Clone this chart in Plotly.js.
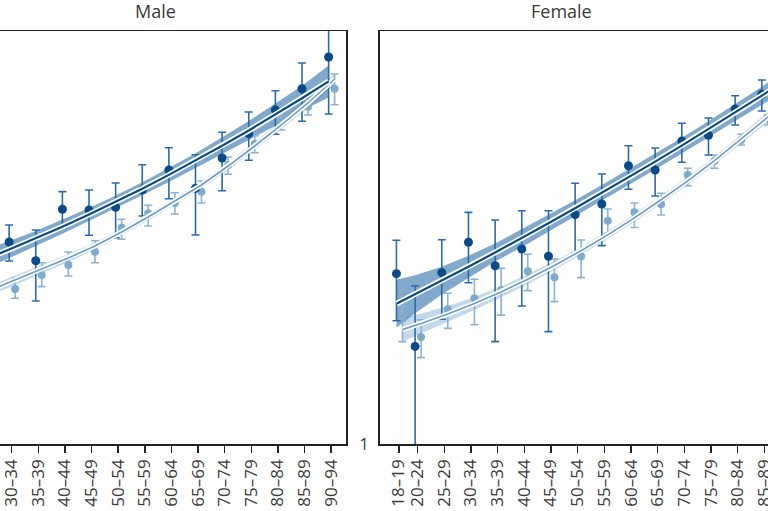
<!DOCTYPE html>
<html>
<head>
<meta charset="utf-8">
<script src="https://cdn.plot.ly/plotly-3.0.1.min.js"></script>
<style>
  html, body { margin: 0; padding: 0; overflow: hidden; background: #fff; }
  #chart { position: absolute; left: -120px; top: 0; width: 960px; height: 511px; }
</style>
</head>
<body>
<div id="chart"></div>
<script>
// age groups, plotted at their midpoints
const ageLabels = ['18–19', '20–24', '25–29', '30–34', '35–39', '40–44', '45–49', '50–54',
    '55–59', '60–64', '65–69', '70–74', '75–79', '80–84', '85–89', '90–94']
const ageMid = [18.5, 22, 27, 32, 37, 42, 47, 52, 57, 62, 67, 72, 77, 82, 87, 92]

// Male - observed (dark)
const maleObs = [6.0, 7.4, 8.3, 9.51, 7.72, 13.70, 13.59, 14.01, 16.98, 21.23, 17.31, 24.27, 31.82, 41.45, 52.55, 74.83]
const maleObsLo = [3.9, 5.2, 6.3, 7.69, 4.93, 11.12, 10.25, 9.98, 12.71, 15.41, 10.28, 16.85, 23.65, 31.61, 36.53, 39.63]
const maleObsHi = [9.0, 10.2, 10.7, 11.50, 10.87, 16.67, 16.98, 18.36, 22.52, 27.22, 25.18, 32.31, 40.53, 51.39, 69.98, 112]
// Male - comparison (light)
const maleRef = [4.3, 4.9, 5.4, 5.63, 6.58, 7.36, 8.54, 11.16, 13.10, 14.69, 16.67, 22.44, 28.37, 36.25, 42.99, 52.55]
const maleRefLo = [3.8, 4.4, 4.9, 5.08, 5.78, 6.51, 7.55, 9.80, 11.37, 12.99, 14.69, 20.23, 25.74, 33.16, 39.19, 43.96]
const maleRefHi = [4.9, 5.5, 6.0, 6.37, 7.55, 8.51, 9.65, 12.25, 14.32, 16.48, 18.77, 24.54, 31.00, 38.20, 46.34, 61.91]
// Male - fitted curves with bands
const maleObsFit = [6.43, 6.93, 7.76, 8.74, 9.89, 11.27, 12.91, 14.87, 17.23, 20.10, 23.57, 27.80, 32.97, 39.37, 47.27, 57.00]
const maleObsFitLo = [5.50, 6.06, 6.94, 7.95, 9.10, 10.43, 12.01, 13.83, 16.03, 18.59, 21.68, 25.30, 29.65, 34.81, 41.10, 47.70]
const maleObsFitHi = [7.52, 7.92, 8.68, 9.61, 10.75, 12.18, 13.88, 15.99, 18.52, 21.73, 25.62, 30.55, 36.66, 44.53, 54.36, 68.10]
const maleRefFit = [4.51, 4.87, 5.51, 6.23, 7.04, 7.96, 9.10, 10.63, 12.57, 15.02, 17.96, 22.19, 27.74, 35.06, 44.81, 58.55]
const maleRefFitLo = [4.17, 4.56, 5.21, 5.93, 6.73, 7.61, 8.75, 10.22, 12.09, 14.44, 17.27, 21.22, 26.52, 33.36, 42.39, 55.08]
const maleRefFitHi = [4.88, 5.21, 5.82, 6.55, 7.36, 8.32, 9.46, 11.06, 13.07, 15.62, 18.68, 23.20, 29.01, 36.85, 47.36, 62.24]

// Female - observed (dark)
const femObs = [6.68, 2.97, 6.75, 9.48, 7.30, 8.80, 8.11, 12.90, 14.53, 22.27, 21.23, 29.33, 31.25, 41.92, 49.38, 62.0]
const femObsLo = [3.95, 0.8, 4.02, 6.04, 3.13, 4.66, 3.50, 8.39, 9.13, 17.12, 15.89, 23.13, 25.09, 35.06, 40.99, 52.0]
const femObsHi = [9.69, 5.84, 9.76, 13.24, 12.16, 13.48, 13.48, 18.30, 20.30, 27.83, 27.13, 35.73, 37.91, 48.61, 57.89, 74.0]
// Female - comparison (light)
const femRef = [4.06, 3.30, 4.49, 5.08, 5.57, 6.86, 6.42, 8.09, 12.06, 13.24, 14.50, 20.07, 23.47, 29.66, 37.78, 47.0]
const femRefLo = [3.13, 2.62, 3.63, 3.78, 4.21, 5.53, 4.89, 6.39, 10.48, 11.18, 12.85, 17.82, 21.63, 28.05, 35.06, 43.0]
const femRefHi = [4.66, 3.99, 5.37, 6.28, 7.09, 8.29, 7.87, 9.72, 13.74, 14.69, 16.37, 21.63, 25.09, 31.61, 39.19, 51.0]
// Female - fitted curves with bands
const femObsFit = [4.78, 5.31, 6.18, 7.21, 8.46, 9.93, 11.72, 13.85, 16.43, 19.53, 23.31, 27.86, 33.46, 40.30, 48.61, 58.88]
const femObsFitLo = [3.66, 4.30, 5.29, 6.37, 7.65, 8.98, 10.66, 12.67, 15.03, 17.87, 21.33, 25.49, 30.61, 36.67, 43.95, 52.67]
const femObsFitHi = [6.25, 6.56, 7.22, 8.15, 9.36, 10.98, 12.88, 15.14, 17.96, 21.35, 25.48, 30.45, 36.57, 44.29, 53.76, 65.83]
const femRefFit = [3.58, 3.83, 4.26, 4.79, 5.45, 6.28, 7.32, 8.63, 10.29, 12.44, 15.23, 18.82, 23.54, 29.87, 38.23, 49.60]
const femRefFitLo = [3.13, 3.43, 3.90, 4.46, 5.13, 5.94, 6.96, 8.25, 9.84, 11.89, 14.56, 17.99, 22.50, 28.42, 36.17, 46.66]
const femRefFitHi = [4.09, 4.28, 4.66, 5.15, 5.79, 6.64, 7.69, 9.03, 10.76, 13.01, 15.93, 19.69, 24.62, 31.39, 40.41, 52.72]

// colours
const DARK = '#0b4a87'
const DARK_BAR = '#2c6ca6'
const DARK_BAND = 'rgba(40,107,165,0.58)'
const LIGHT = '#80aacd'
const LIGHT_BAR = '#8cb2d4'
const LIGHT_LINE = '#6d9dc6'
const LIGHT_BAND = 'rgba(112,160,202,0.4)'

// small horizontal dodge so the two series don't sit on top of each other
const xDark = ageMid.map(a => a - 0.47)
const xLight = ageMid.map(a => a + 0.65)

function band(x, lo, hi, color, xa, ya) {
    return [
        { x, y: lo, xaxis: xa, yaxis: ya, mode: 'lines', line: { width: 0 }, hoverinfo: 'skip' },
        { x, y: hi, xaxis: xa, yaxis: ya, mode: 'lines', line: { width: 0 }, fill: 'tonexty', fillcolor: color, hoverinfo: 'skip' }
    ]
}

function fitLine(x, y, color, width, xa, ya) {
    return [
        { x, y, xaxis: xa, yaxis: ya, mode: 'lines', line: { color: '#ffffff', width: width + 3.4 } },
        { x, y, xaxis: xa, yaxis: ya, mode: 'lines', line: { color, width } }
    ]
}

function points(x, y, lo, hi, color, barColor, size, xa, ya) {
    return {
        x, y, xaxis: xa, yaxis: ya,
        mode: 'markers',
        marker: { color, size },
        error_y: {
            type: 'data',
            symmetric: false,
            array: hi.map((h, i) => h - y[i]),
            arrayminus: lo.map((l, i) => y[i] - l),
            color: barColor,
            thickness: 1.6,
            width: 4
        }
    }
}

function panel(xa, ya, obs, obsLo, obsHi, ref, refLo, refHi, oFit, oFitLo, oFitHi, rFit, rFitLo, rFitHi) {
    return [
        ...band(xLight, rFitLo, rFitHi, LIGHT_BAND, xa, ya),
        ...band(xDark, oFitLo, oFitHi, DARK_BAND, xa, ya),
        points(xLight, ref, refLo, refHi, LIGHT, LIGHT_BAR, 8, xa, ya),
        points(xDark, obs, obsLo, obsHi, DARK, DARK_BAR, 9, xa, ya),
        ...fitLine(xLight, rFit, LIGHT_LINE, 1.6, xa, ya),
        ...fitLine(xDark, oFit, DARK, 2.2, xa, ya)
    ]
}

const data = [
    ...panel('x', 'y', maleObs, maleObsLo, maleObsHi, maleRef, maleRefLo, maleRefHi,
        maleObsFit, maleObsFitLo, maleObsFitHi, maleRefFit, maleRefFitLo, maleRefFitHi),
    ...panel('x2', 'y2', femObs, femObsLo, femObsHi, femRef, femRefLo, femRefHi,
        femObsFit, femObsFitLo, femObsFitHi, femRefFit, femRefFitLo, femRefFitHi)
]

const fontFamily = '"Open Sans", "Noto Sans", sans-serif'

const xBase = {
    tickangle: -90,
    ticks: 'outside',
    ticklen: 7,
    tickwidth: 1.5,
    tickcolor: '#222',
    tickfont: { family: fontFamily, size: 17, color: '#3a3a3a' },
    showline: true,
    mirror: true,
    linecolor: '#222',
    linewidth: 1.5,
    showgrid: false,
    zeroline: false
}

const yBase = {
    type: 'log',
    range: [0, 2],
    tickvals: [1],
    ticktext: ['1'],
    ticks: '',
    ticklabelstandoff: 6,
    tickfont: { family: fontFamily, size: 17, color: '#3a3a3a' },
    showline: true,
    mirror: true,
    linecolor: '#222',
    linewidth: 1.5,
    showgrid: false,
    zeroline: false
}

// both panels are cropped at the page edge, so only the age labels in view are drawn
const layout = {
    width: 960,
    height: 511,
    margin: { l: 39, r: 33, t: 31, b: 67 },
    showlegend: false,
    hovermode: false,
    paper_bgcolor: '#ffffff',
    plot_bgcolor: '#ffffff',
    xaxis: { ...xBase, domain: [0, 0.4809], range: [14.6, 94.8],
        tickvals: ageMid.slice(3), ticktext: ageLabels.slice(3) },
    yaxis: { ...yBase, anchor: 'x', showticklabels: false },
    xaxis2: { ...xBase, domain: [0.5191, 1], range: [14.94, 95],
        tickvals: ageMid.slice(0, 15), ticktext: ageLabels.slice(0, 15) },
    yaxis2: { ...yBase, anchor: 'x2' },
    annotations: [
        { text: 'Male', xref: 'paper', yref: 'paper', x: 0.2405, y: 1, yanchor: 'middle', yshift: 20, showarrow: false,
          font: { family: fontFamily, size: 18, color: '#3a3a3a' } },
        { text: 'Female', xref: 'paper', yref: 'paper', x: 0.7596, y: 1, yanchor: 'middle', yshift: 20, showarrow: false,
          font: { family: fontFamily, size: 18, color: '#3a3a3a' } }
    ]
}

Plotly.newPlot(document.getElementById('chart'), data, layout, { staticPlot: true })
</script>
</body>
</html>
